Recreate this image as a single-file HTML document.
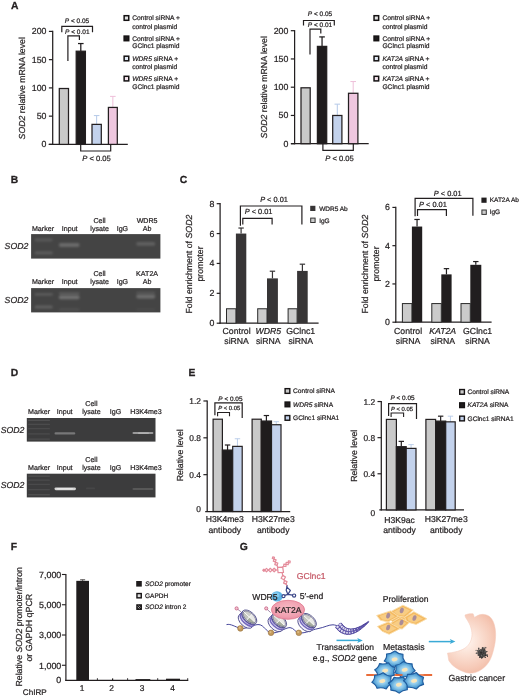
<!DOCTYPE html>
<html lang="en">
<head>
<meta charset="utf-8">
<title>Figure</title>
<style>
html,body{margin:0;padding:0;background:#fff;}
body{width:520px;height:698px;overflow:hidden;}
svg{display:block;filter:blur(0.35px);font-family:'Liberation Sans', Arial, Helvetica, sans-serif;text-rendering:geometricPrecision;}
</style>
</head>
<body>
<svg width="520" height="698" viewBox="0 0 520 698">
<defs>
<filter id="blur" x="-20%" y="-100%" width="140%" height="300%"><feGaussianBlur stdDeviation="0.7"/></filter>
<filter id="blurB" x="-20%" y="-150%" width="140%" height="400%"><feGaussianBlur stdDeviation="1.1"/></filter>
<radialGradient id="gKat" cx="0.5" cy="0.42" r="0.62"><stop offset="0" stop-color="#f7b9c4"/><stop offset="0.7" stop-color="#f0a0b0"/><stop offset="1" stop-color="#e98aa0"/></radialGradient>
<radialGradient id="gSto" gradientUnits="userSpaceOnUse" cx="466" cy="641" r="36"><stop offset="0" stop-color="#fff6f1"/><stop offset="0.35" stop-color="#fbe2d6"/><stop offset="0.75" stop-color="#f6cab8"/><stop offset="1" stop-color="#f1b9a3"/></radialGradient>
<radialGradient id="gCell" cx="0.5" cy="0.5" r="0.55"><stop offset="0" stop-color="#c4e6f6"/><stop offset="0.4" stop-color="#8cc8ea"/><stop offset="0.85" stop-color="#3b8fcc"/><stop offset="1" stop-color="#2f7fc0"/></radialGradient>
</defs>
<rect x="0" y="0" width="520" height="698" fill="#ffffff"/>
<text x="11.10" y="8.90" font-size="10.30" text-anchor="start" fill="#231f20" stroke="#231f20" stroke-width="0.30" font-weight="bold" >A</text>
<line x1="52.70" y1="30.80" x2="52.70" y2="145.00" stroke="#231f20" stroke-width="1.25" />
<line x1="48.70" y1="144.40" x2="127.80" y2="144.40" stroke="#231f20" stroke-width="1.25" />
<line x1="48.90" y1="144.40" x2="52.70" y2="144.40" stroke="#231f20" stroke-width="1.20" />
<text x="46.50" y="147.39" font-size="8.80" text-anchor="end" fill="#231f20" stroke="#231f20" stroke-width="0.22" >0</text>
<line x1="48.90" y1="116.15" x2="52.70" y2="116.15" stroke="#231f20" stroke-width="1.20" />
<text x="46.50" y="119.14" font-size="8.80" text-anchor="end" fill="#231f20" stroke="#231f20" stroke-width="0.22" >50</text>
<line x1="48.90" y1="87.90" x2="52.70" y2="87.90" stroke="#231f20" stroke-width="1.20" />
<text x="46.50" y="90.89" font-size="8.80" text-anchor="end" fill="#231f20" stroke="#231f20" stroke-width="0.22" >100</text>
<line x1="48.90" y1="59.65" x2="52.70" y2="59.65" stroke="#231f20" stroke-width="1.20" />
<text x="46.50" y="62.64" font-size="8.80" text-anchor="end" fill="#231f20" stroke="#231f20" stroke-width="0.22" >150</text>
<line x1="48.90" y1="31.40" x2="52.70" y2="31.40" stroke="#231f20" stroke-width="1.20" />
<text x="46.50" y="34.39" font-size="8.80" text-anchor="end" fill="#231f20" stroke="#231f20" stroke-width="0.22" >200</text>
<text x="0" y="2.97" font-size="8.73" text-anchor="middle" fill="#231f20" stroke="#231f20" stroke-width="0.22" transform="translate(22.10 88.30) rotate(-90)" ><tspan font-style="italic">SOD2</tspan> relative mRNA level</text>
<rect x="59.30" y="88.50" width="9.20" height="55.90" fill="#c9c9c9" stroke="#231f20" stroke-width="1.25" />
<line x1="80.80" y1="51.21" x2="80.80" y2="43.55" stroke="#1f1c1d" stroke-width="1.25" />
<line x1="78.00" y1="43.55" x2="83.60" y2="43.55" stroke="#1f1c1d" stroke-width="1.25" />
<rect x="76.20" y="51.21" width="9.20" height="93.19" fill="#1f1c1d" stroke="#231f20" stroke-width="1.25" />
<line x1="96.65" y1="124.38" x2="96.65" y2="115.59" stroke="#b5c9e8" stroke-width="1.00" />
<line x1="93.85" y1="115.59" x2="99.45" y2="115.59" stroke="#b5c9e8" stroke-width="1.00" />
<rect x="92.00" y="124.38" width="9.30" height="20.02" fill="#c3d2ec" stroke="#231f20" stroke-width="1.25" />
<line x1="112.85" y1="107.43" x2="112.85" y2="96.38" stroke="#eebfd9" stroke-width="1.00" />
<line x1="110.05" y1="96.38" x2="115.65" y2="96.38" stroke="#eebfd9" stroke-width="1.00" />
<rect x="108.40" y="107.43" width="8.90" height="36.97" fill="#efc7df" stroke="#231f20" stroke-width="1.25" />
<rect x="124.15" y="15.70" width="4.60" height="4.60" fill="#e4e4e4" stroke="#151213" stroke-width="1.50" />
<text x="132.20" y="20.28" font-size="6.70" text-anchor="start" fill="#231f20" stroke="#231f20" stroke-width="0.22" >Control siRNA +</text>
<text x="132.20" y="28.58" font-size="6.70" text-anchor="start" fill="#231f20" stroke="#231f20" stroke-width="0.22" >control plasmid</text>
<rect x="124.15" y="36.10" width="4.60" height="4.60" fill="#1f1c1d" stroke="#151213" stroke-width="1.50" />
<text x="132.20" y="40.68" font-size="6.70" text-anchor="start" fill="#231f20" stroke="#231f20" stroke-width="0.22" >Control siRNA +</text>
<text x="132.20" y="48.48" font-size="6.70" text-anchor="start" fill="#231f20" stroke="#231f20" stroke-width="0.22" >GClnc1 plasmid</text>
<rect x="124.15" y="56.20" width="4.60" height="4.60" fill="#e3ebf7" stroke="#151213" stroke-width="1.50" />
<text x="132.20" y="60.78" font-size="6.70" text-anchor="start" fill="#231f20" stroke="#231f20" stroke-width="0.22" ><tspan font-style="italic">WDR5</tspan> siRNA +</text>
<text x="132.20" y="68.58" font-size="6.70" text-anchor="start" fill="#231f20" stroke="#231f20" stroke-width="0.22" >control plasmid</text>
<rect x="124.15" y="76.30" width="4.60" height="4.60" fill="#f8e6f0" stroke="#151213" stroke-width="1.50" />
<text x="132.20" y="80.88" font-size="6.70" text-anchor="start" fill="#231f20" stroke="#231f20" stroke-width="0.22" ><tspan font-style="italic">WDR5</tspan> siRNA +</text>
<text x="132.20" y="88.68" font-size="6.70" text-anchor="start" fill="#231f20" stroke="#231f20" stroke-width="0.22" >GClnc1 plasmid</text>
<path d="M61.80 32.20 V26.40 H92.50 V32.20" fill="none" stroke="#231f20" stroke-width="1.20" />
<text x="77.00" y="23.01" font-size="6.50" text-anchor="middle" fill="#231f20" stroke="#231f20" stroke-width="0.22" ><tspan font-style="italic">P</tspan> &lt; 0.05</text>
<path d="M67.90 61.10 V35.80 H79.40 V40.00" fill="none" stroke="#231f20" stroke-width="1.20" />
<text x="77.30" y="33.71" font-size="6.50" text-anchor="middle" fill="#231f20" stroke="#231f20" stroke-width="0.22" ><tspan font-style="italic">P</tspan> &lt; 0.01</text>
<path d="M80.70 144.40 V151.00 H110.70 V144.40" fill="none" stroke="#231f20" stroke-width="1.20" />
<text x="96.50" y="160.78" font-size="7.60" text-anchor="middle" fill="#231f20" stroke="#231f20" stroke-width="0.22" ><tspan font-style="italic">P</tspan> &lt; 0.05</text>
<line x1="294.60" y1="30.10" x2="294.60" y2="144.30" stroke="#231f20" stroke-width="1.25" />
<line x1="291.00" y1="143.70" x2="368.70" y2="143.70" stroke="#231f20" stroke-width="1.25" />
<line x1="290.80" y1="143.70" x2="294.60" y2="143.70" stroke="#231f20" stroke-width="1.20" />
<text x="288.40" y="146.69" font-size="8.80" text-anchor="end" fill="#231f20" stroke="#231f20" stroke-width="0.22" >0</text>
<line x1="290.80" y1="115.45" x2="294.60" y2="115.45" stroke="#231f20" stroke-width="1.20" />
<text x="288.40" y="118.44" font-size="8.80" text-anchor="end" fill="#231f20" stroke="#231f20" stroke-width="0.22" >50</text>
<line x1="290.80" y1="87.20" x2="294.60" y2="87.20" stroke="#231f20" stroke-width="1.20" />
<text x="288.40" y="90.19" font-size="8.80" text-anchor="end" fill="#231f20" stroke="#231f20" stroke-width="0.22" >100</text>
<line x1="290.80" y1="58.95" x2="294.60" y2="58.95" stroke="#231f20" stroke-width="1.20" />
<text x="288.40" y="61.94" font-size="8.80" text-anchor="end" fill="#231f20" stroke="#231f20" stroke-width="0.22" >150</text>
<line x1="290.80" y1="30.70" x2="294.60" y2="30.70" stroke="#231f20" stroke-width="1.20" />
<text x="288.40" y="33.69" font-size="8.80" text-anchor="end" fill="#231f20" stroke="#231f20" stroke-width="0.22" >200</text>
<text x="0" y="2.97" font-size="8.73" text-anchor="middle" fill="#231f20" stroke="#231f20" stroke-width="0.22" transform="translate(264.00 87.30) rotate(-90)" ><tspan font-style="italic">SOD2</tspan> relative mRNA level</text>
<rect x="301.00" y="87.80" width="9.20" height="55.90" fill="#c9c9c9" stroke="#231f20" stroke-width="1.25" />
<line x1="322.05" y1="46.39" x2="322.05" y2="36.91" stroke="#1f1c1d" stroke-width="1.25" />
<line x1="319.25" y1="36.91" x2="324.85" y2="36.91" stroke="#1f1c1d" stroke-width="1.25" />
<rect x="317.40" y="46.39" width="9.30" height="97.31" fill="#1f1c1d" stroke="#231f20" stroke-width="1.25" />
<line x1="337.30" y1="115.48" x2="337.30" y2="104.15" stroke="#b5c9e8" stroke-width="1.00" />
<line x1="334.50" y1="104.15" x2="340.10" y2="104.15" stroke="#b5c9e8" stroke-width="1.00" />
<rect x="332.70" y="115.48" width="9.20" height="28.22" fill="#c3d2ec" stroke="#231f20" stroke-width="1.25" />
<line x1="353.20" y1="93.28" x2="353.20" y2="81.55" stroke="#eebfd9" stroke-width="1.00" />
<line x1="350.40" y1="81.55" x2="356.00" y2="81.55" stroke="#eebfd9" stroke-width="1.00" />
<rect x="348.50" y="93.28" width="9.40" height="50.42" fill="#efc7df" stroke="#231f20" stroke-width="1.25" />
<rect x="374.05" y="15.70" width="4.60" height="4.60" fill="#e4e4e4" stroke="#151213" stroke-width="1.50" />
<text x="382.40" y="20.28" font-size="6.70" text-anchor="start" fill="#231f20" stroke="#231f20" stroke-width="0.22" >Control siRNA +</text>
<text x="382.40" y="28.58" font-size="6.70" text-anchor="start" fill="#231f20" stroke="#231f20" stroke-width="0.22" >control plasmid</text>
<rect x="374.05" y="36.10" width="4.60" height="4.60" fill="#1f1c1d" stroke="#151213" stroke-width="1.50" />
<text x="382.40" y="40.68" font-size="6.70" text-anchor="start" fill="#231f20" stroke="#231f20" stroke-width="0.22" >Control siRNA +</text>
<text x="382.40" y="48.48" font-size="6.70" text-anchor="start" fill="#231f20" stroke="#231f20" stroke-width="0.22" >GClnc1 plasmid</text>
<rect x="374.05" y="56.20" width="4.60" height="4.60" fill="#e3ebf7" stroke="#151213" stroke-width="1.50" />
<text x="382.40" y="60.78" font-size="6.70" text-anchor="start" fill="#231f20" stroke="#231f20" stroke-width="0.22" ><tspan font-style="italic">KAT2A</tspan> siRNA +</text>
<text x="382.40" y="68.58" font-size="6.70" text-anchor="start" fill="#231f20" stroke="#231f20" stroke-width="0.22" >control plasmid</text>
<rect x="374.05" y="76.30" width="4.60" height="4.60" fill="#f8e6f0" stroke="#151213" stroke-width="1.50" />
<text x="382.40" y="80.88" font-size="6.70" text-anchor="start" fill="#231f20" stroke="#231f20" stroke-width="0.22" ><tspan font-style="italic">KAT2A</tspan> siRNA +</text>
<text x="382.40" y="88.68" font-size="6.70" text-anchor="start" fill="#231f20" stroke="#231f20" stroke-width="0.22" >GClnc1 plasmid</text>
<path d="M303.50 25.40 V20.50 H334.30 V25.40" fill="none" stroke="#231f20" stroke-width="1.20" />
<text x="320.00" y="15.61" font-size="6.50" text-anchor="middle" fill="#231f20" stroke="#231f20" stroke-width="0.22" ><tspan font-style="italic">P</tspan> &lt; 0.05</text>
<path d="M310.00 54.60 V29.20 H320.80 V33.40" fill="none" stroke="#231f20" stroke-width="1.20" />
<text x="320.00" y="27.11" font-size="6.50" text-anchor="middle" fill="#231f20" stroke="#231f20" stroke-width="0.22" ><tspan font-style="italic">P</tspan> &lt; 0.01</text>
<path d="M322.90 143.70 V150.40 H353.30 V143.70" fill="none" stroke="#231f20" stroke-width="1.20" />
<text x="339.50" y="160.58" font-size="7.60" text-anchor="middle" fill="#231f20" stroke="#231f20" stroke-width="0.22" ><tspan font-style="italic">P</tspan> &lt; 0.05</text>
<text x="10.80" y="183.20" font-size="10.30" text-anchor="start" fill="#231f20" stroke="#231f20" stroke-width="0.30" font-weight="bold" >B</text>
<text x="43.00" y="230.81" font-size="7.10" text-anchor="middle" fill="#231f20" stroke="#231f20" stroke-width="0.22" >Marker</text>
<text x="69.70" y="230.81" font-size="7.10" text-anchor="middle" fill="#231f20" stroke="#231f20" stroke-width="0.22" >Input</text>
<text x="99.60" y="222.61" font-size="7.10" text-anchor="middle" fill="#231f20" stroke="#231f20" stroke-width="0.22" >Cell</text>
<text x="99.60" y="230.81" font-size="7.10" text-anchor="middle" fill="#231f20" stroke="#231f20" stroke-width="0.22" >lysate</text>
<text x="122.40" y="230.81" font-size="7.10" text-anchor="middle" fill="#231f20" stroke="#231f20" stroke-width="0.22" >IgG</text>
<text x="147.10" y="222.61" font-size="7.10" text-anchor="middle" fill="#231f20" stroke="#231f20" stroke-width="0.22" >WDR5</text>
<text x="147.10" y="230.81" font-size="7.10" text-anchor="middle" fill="#231f20" stroke="#231f20" stroke-width="0.22" >Ab</text>
<rect x="31.10" y="234.10" width="129.30" height="24.50" fill="#444444" stroke="none" />
<rect x="34.60" y="238.20" width="18.20" height="3.20" rx="1.60" fill="#ffffff" fill-opacity="0.10" filter="url(#blurB)"/>
<rect x="34.60" y="251.30" width="18.20" height="3.20" rx="1.60" fill="#ffffff" fill-opacity="0.12" filter="url(#blurB)"/>
<rect x="58.80" y="243.10" width="20.80" height="4.00" rx="2.00" fill="#ffffff" fill-opacity="0.20" filter="url(#blurB)"/>
<rect x="136.20" y="241.90" width="19.10" height="3.80" rx="1.90" fill="#ffffff" fill-opacity="0.15" filter="url(#blurB)"/>
<text x="4.60" y="249.26" font-size="8.70" text-anchor="start" fill="#231f20" stroke="#231f20" stroke-width="0.22" font-style="italic" >SOD2</text>
<text x="43.00" y="284.21" font-size="7.10" text-anchor="middle" fill="#231f20" stroke="#231f20" stroke-width="0.22" >Marker</text>
<text x="69.70" y="284.21" font-size="7.10" text-anchor="middle" fill="#231f20" stroke="#231f20" stroke-width="0.22" >Input</text>
<text x="99.60" y="275.61" font-size="7.10" text-anchor="middle" fill="#231f20" stroke="#231f20" stroke-width="0.22" >Cell</text>
<text x="99.60" y="284.21" font-size="7.10" text-anchor="middle" fill="#231f20" stroke="#231f20" stroke-width="0.22" >lysate</text>
<text x="122.40" y="284.21" font-size="7.10" text-anchor="middle" fill="#231f20" stroke="#231f20" stroke-width="0.22" >IgG</text>
<text x="147.10" y="275.61" font-size="7.10" text-anchor="middle" fill="#231f20" stroke="#231f20" stroke-width="0.22" >KAT2A</text>
<text x="147.10" y="284.21" font-size="7.10" text-anchor="middle" fill="#231f20" stroke="#231f20" stroke-width="0.22" >Ab</text>
<rect x="31.10" y="288.10" width="129.30" height="24.30" fill="#444444" stroke="none" />
<rect x="34.60" y="293.10" width="18.20" height="2.60" rx="1.30" fill="#ffffff" fill-opacity="0.12" filter="url(#blurB)"/>
<rect x="34.60" y="305.40" width="18.20" height="3.00" rx="1.50" fill="#ffffff" fill-opacity="0.15" filter="url(#blurB)"/>
<rect x="58.80" y="295.60" width="20.80" height="3.60" rx="1.80" fill="#ffffff" fill-opacity="0.24" filter="url(#blurB)"/>
<rect x="58.80" y="292.30" width="20.80" height="2.60" rx="1.30" fill="#ffffff" fill-opacity="0.12" filter="url(#blurB)"/>
<rect x="58.80" y="308.50" width="20.80" height="2.20" rx="1.10" fill="#ffffff" fill-opacity="0.07" filter="url(#blurB)"/>
<rect x="136.20" y="294.80" width="19.10" height="3.60" rx="1.80" fill="#ffffff" fill-opacity="0.22" filter="url(#blurB)"/>
<rect x="136.20" y="291.80" width="19.10" height="2.40" rx="1.20" fill="#ffffff" fill-opacity="0.10" filter="url(#blurB)"/>
<rect x="136.20" y="308.40" width="19.10" height="2.00" rx="1.00" fill="#ffffff" fill-opacity="0.04" filter="url(#blurB)"/>
<text x="4.60" y="302.96" font-size="8.70" text-anchor="start" fill="#231f20" stroke="#231f20" stroke-width="0.22" font-style="italic" >SOD2</text>
<text x="179.70" y="183.20" font-size="10.30" text-anchor="start" fill="#231f20" stroke="#231f20" stroke-width="0.30" font-weight="bold" >C</text>
<line x1="220.10" y1="203.08" x2="220.10" y2="323.80" stroke="#231f20" stroke-width="1.25" />
<line x1="219.50" y1="323.20" x2="318.60" y2="323.20" stroke="#231f20" stroke-width="1.25" />
<line x1="216.70" y1="323.20" x2="220.10" y2="323.20" stroke="#231f20" stroke-width="1.20" />
<text x="214.30" y="326.19" font-size="8.80" text-anchor="end" fill="#231f20" stroke="#231f20" stroke-width="0.22" >0</text>
<line x1="216.70" y1="293.32" x2="220.10" y2="293.32" stroke="#231f20" stroke-width="1.20" />
<text x="214.30" y="296.31" font-size="8.80" text-anchor="end" fill="#231f20" stroke="#231f20" stroke-width="0.22" >2</text>
<line x1="216.70" y1="263.44" x2="220.10" y2="263.44" stroke="#231f20" stroke-width="1.20" />
<text x="214.30" y="266.43" font-size="8.80" text-anchor="end" fill="#231f20" stroke="#231f20" stroke-width="0.22" >4</text>
<line x1="216.70" y1="233.56" x2="220.10" y2="233.56" stroke="#231f20" stroke-width="1.20" />
<text x="214.30" y="236.55" font-size="8.80" text-anchor="end" fill="#231f20" stroke="#231f20" stroke-width="0.22" >6</text>
<line x1="216.70" y1="203.68" x2="220.10" y2="203.68" stroke="#231f20" stroke-width="1.20" />
<text x="214.30" y="206.67" font-size="8.80" text-anchor="end" fill="#231f20" stroke="#231f20" stroke-width="0.22" >8</text>
<text x="0" y="2.99" font-size="8.78" text-anchor="middle" fill="#231f20" stroke="#231f20" stroke-width="0.22" transform="translate(189.20 264.10) rotate(-90)" >Fold enrichment of <tspan font-style="italic">SOD2</tspan></text>
<text x="0" y="2.99" font-size="8.78" text-anchor="middle" fill="#231f20" stroke="#231f20" stroke-width="0.22" transform="translate(200.40 264.00) rotate(-90)" >promoter</text>
<line x1="241.10" y1="233.56" x2="241.10" y2="228.03" stroke="#373536" stroke-width="1.20" />
<line x1="238.40" y1="228.03" x2="243.80" y2="228.03" stroke="#373536" stroke-width="1.20" />
<rect x="235.90" y="233.56" width="10.40" height="89.64" fill="#373536" stroke="none" />
<rect x="226.50" y="308.76" width="9.40" height="14.44" fill="#cbcbcb" stroke="#2a2a2a" stroke-width="1.00" />
<line x1="272.45" y1="278.38" x2="272.45" y2="271.21" stroke="#373536" stroke-width="1.20" />
<line x1="269.75" y1="271.21" x2="275.15" y2="271.21" stroke="#373536" stroke-width="1.20" />
<rect x="267.00" y="278.38" width="10.90" height="44.82" fill="#373536" stroke="none" />
<rect x="257.70" y="308.76" width="9.30" height="14.44" fill="#cbcbcb" stroke="#2a2a2a" stroke-width="1.00" />
<line x1="302.40" y1="270.91" x2="302.40" y2="264.19" stroke="#373536" stroke-width="1.20" />
<line x1="299.70" y1="264.19" x2="305.10" y2="264.19" stroke="#373536" stroke-width="1.20" />
<rect x="297.10" y="270.91" width="10.60" height="52.29" fill="#373536" stroke="none" />
<rect x="288.10" y="308.76" width="9.00" height="14.44" fill="#cbcbcb" stroke="#2a2a2a" stroke-width="1.00" />
<rect x="310.20" y="205.80" width="5.20" height="5.20" fill="#373536" stroke="none" />
<text x="319.20" y="210.61" font-size="6.50" text-anchor="start" fill="#231f20" stroke="#231f20" stroke-width="0.22" >WDR5 Ab</text>
<rect x="310.70" y="218.10" width="4.40" height="4.40" fill="#cbcbcb" stroke="#333" stroke-width="1.00" />
<text x="319.20" y="222.51" font-size="6.50" text-anchor="start" fill="#231f20" stroke="#231f20" stroke-width="0.22" >IgG</text>
<text x="236.60" y="334.36" font-size="8.70" text-anchor="middle" fill="#231f20" stroke="#231f20" stroke-width="0.22" >Control</text>
<text x="236.60" y="344.46" font-size="8.70" text-anchor="middle" fill="#231f20" stroke="#231f20" stroke-width="0.22" >siRNA</text>
<text x="268.30" y="334.36" font-size="8.70" text-anchor="middle" fill="#231f20" stroke="#231f20" stroke-width="0.22" ><tspan font-style="italic">WDR5</tspan></text>
<text x="268.30" y="344.46" font-size="8.70" text-anchor="middle" fill="#231f20" stroke="#231f20" stroke-width="0.22" >siRNA</text>
<text x="300.70" y="334.36" font-size="8.70" text-anchor="middle" fill="#231f20" stroke="#231f20" stroke-width="0.22" >GClnc1</text>
<text x="300.70" y="344.46" font-size="8.70" text-anchor="middle" fill="#231f20" stroke="#231f20" stroke-width="0.22" >siRNA</text>
<path d="M240.40 225.70 V206.00 H301.90 V224.40" fill="none" stroke="#231f20" stroke-width="1.20" />
<text x="274.00" y="201.92" font-size="7.40" text-anchor="middle" fill="#231f20" stroke="#231f20" stroke-width="0.22" ><tspan font-style="italic">P</tspan> &lt; 0.01</text>
<path d="M242.80 224.40 V218.40 H272.10 V224.40" fill="none" stroke="#231f20" stroke-width="1.20" />
<text x="258.60" y="214.22" font-size="7.40" text-anchor="middle" fill="#231f20" stroke="#231f20" stroke-width="0.22" ><tspan font-style="italic">P</tspan> &lt; 0.01</text>
<line x1="395.80" y1="206.82" x2="395.80" y2="322.80" stroke="#231f20" stroke-width="1.25" />
<line x1="395.20" y1="322.20" x2="491.60" y2="322.20" stroke="#231f20" stroke-width="1.25" />
<line x1="392.40" y1="322.20" x2="395.80" y2="322.20" stroke="#231f20" stroke-width="1.20" />
<text x="390.00" y="325.19" font-size="8.80" text-anchor="end" fill="#231f20" stroke="#231f20" stroke-width="0.22" >0</text>
<line x1="392.40" y1="283.94" x2="395.80" y2="283.94" stroke="#231f20" stroke-width="1.20" />
<text x="390.00" y="286.93" font-size="8.80" text-anchor="end" fill="#231f20" stroke="#231f20" stroke-width="0.22" >2</text>
<line x1="392.40" y1="245.68" x2="395.80" y2="245.68" stroke="#231f20" stroke-width="1.20" />
<text x="390.00" y="248.67" font-size="8.80" text-anchor="end" fill="#231f20" stroke="#231f20" stroke-width="0.22" >4</text>
<line x1="392.40" y1="207.42" x2="395.80" y2="207.42" stroke="#231f20" stroke-width="1.20" />
<text x="390.00" y="210.41" font-size="8.80" text-anchor="end" fill="#231f20" stroke="#231f20" stroke-width="0.22" >6</text>
<text x="0" y="2.99" font-size="8.78" text-anchor="middle" fill="#231f20" stroke="#231f20" stroke-width="0.22" transform="translate(365.00 264.10) rotate(-90)" >Fold enrichment of <tspan font-style="italic">SOD2</tspan></text>
<text x="0" y="2.99" font-size="8.78" text-anchor="middle" fill="#231f20" stroke="#231f20" stroke-width="0.22" transform="translate(376.10 264.00) rotate(-90)" >promoter</text>
<line x1="417.05" y1="226.55" x2="417.05" y2="219.47" stroke="#211e1f" stroke-width="1.20" />
<line x1="414.35" y1="219.47" x2="419.75" y2="219.47" stroke="#211e1f" stroke-width="1.20" />
<rect x="411.90" y="226.55" width="10.30" height="95.65" fill="#211e1f" stroke="none" />
<rect x="402.40" y="303.57" width="9.50" height="18.63" fill="#cbcbcb" stroke="#2a2a2a" stroke-width="1.00" />
<line x1="446.45" y1="274.38" x2="446.45" y2="268.64" stroke="#211e1f" stroke-width="1.20" />
<line x1="443.75" y1="268.64" x2="449.15" y2="268.64" stroke="#211e1f" stroke-width="1.20" />
<rect x="441.30" y="274.38" width="10.30" height="47.82" fill="#211e1f" stroke="none" />
<rect x="431.80" y="303.57" width="9.50" height="18.63" fill="#cbcbcb" stroke="#2a2a2a" stroke-width="1.00" />
<line x1="475.80" y1="264.81" x2="475.80" y2="261.56" stroke="#211e1f" stroke-width="1.20" />
<line x1="473.10" y1="261.56" x2="478.50" y2="261.56" stroke="#211e1f" stroke-width="1.20" />
<rect x="470.30" y="264.81" width="11.00" height="57.39" fill="#211e1f" stroke="none" />
<rect x="461.00" y="303.57" width="9.30" height="18.63" fill="#cbcbcb" stroke="#2a2a2a" stroke-width="1.00" />
<rect x="481.40" y="197.60" width="5.20" height="5.20" fill="#211e1f" stroke="none" />
<text x="489.70" y="202.41" font-size="6.50" text-anchor="start" fill="#231f20" stroke="#231f20" stroke-width="0.22" >KAT2A Ab</text>
<rect x="481.90" y="210.00" width="4.40" height="4.40" fill="#cbcbcb" stroke="#333" stroke-width="1.00" />
<text x="489.70" y="214.41" font-size="6.50" text-anchor="start" fill="#231f20" stroke="#231f20" stroke-width="0.22" >IgG</text>
<text x="408.10" y="334.36" font-size="8.70" text-anchor="middle" fill="#231f20" stroke="#231f20" stroke-width="0.22" >Control</text>
<text x="408.10" y="344.46" font-size="8.70" text-anchor="middle" fill="#231f20" stroke="#231f20" stroke-width="0.22" >siRNA</text>
<text x="442.70" y="334.36" font-size="8.70" text-anchor="middle" fill="#231f20" stroke="#231f20" stroke-width="0.22" ><tspan font-style="italic">KAT2A</tspan></text>
<text x="442.70" y="344.46" font-size="8.70" text-anchor="middle" fill="#231f20" stroke="#231f20" stroke-width="0.22" >siRNA</text>
<text x="477.60" y="334.36" font-size="8.70" text-anchor="middle" fill="#231f20" stroke="#231f20" stroke-width="0.22" >GClnc1</text>
<text x="477.60" y="344.46" font-size="8.70" text-anchor="middle" fill="#231f20" stroke="#231f20" stroke-width="0.22" >siRNA</text>
<path d="M415.10 216.30 V198.40 H472.90 V215.80" fill="none" stroke="#231f20" stroke-width="1.20" />
<text x="447.70" y="195.92" font-size="7.40" text-anchor="middle" fill="#231f20" stroke="#231f20" stroke-width="0.22" ><tspan font-style="italic">P</tspan> &lt; 0.01</text>
<path d="M417.50 216.10 V209.60 H446.40 V216.10" fill="none" stroke="#231f20" stroke-width="1.20" />
<text x="432.90" y="207.32" font-size="7.40" text-anchor="middle" fill="#231f20" stroke="#231f20" stroke-width="0.22" ><tspan font-style="italic">P</tspan> &lt; 0.01</text>
<text x="10.80" y="376.40" font-size="10.30" text-anchor="start" fill="#231f20" stroke="#231f20" stroke-width="0.30" font-weight="bold" >D</text>
<text x="39.10" y="414.41" font-size="7.10" text-anchor="middle" fill="#231f20" stroke="#231f20" stroke-width="0.22" >Marker</text>
<text x="64.70" y="414.41" font-size="7.10" text-anchor="middle" fill="#231f20" stroke="#231f20" stroke-width="0.22" >Input</text>
<text x="91.40" y="405.81" font-size="7.10" text-anchor="middle" fill="#231f20" stroke="#231f20" stroke-width="0.22" >Cell</text>
<text x="91.40" y="414.41" font-size="7.10" text-anchor="middle" fill="#231f20" stroke="#231f20" stroke-width="0.22" >lysate</text>
<text x="115.50" y="414.41" font-size="7.10" text-anchor="middle" fill="#231f20" stroke="#231f20" stroke-width="0.22" >IgG</text>
<text x="146.00" y="414.41" font-size="7.10" text-anchor="middle" fill="#231f20" stroke="#231f20" stroke-width="0.22" >H3K4me3</text>
<rect x="26.80" y="418.00" width="128.70" height="23.60" fill="#3c3c3d" stroke="none" />
<rect x="28.00" y="419.80" width="22.00" height="1.20" rx="0.60" fill="#ffffff" fill-opacity="0.10" filter="url(#blur)"/>
<rect x="28.00" y="423.80" width="22.00" height="1.20" rx="0.60" fill="#ffffff" fill-opacity="0.08" filter="url(#blur)"/>
<rect x="28.00" y="428.05" width="22.00" height="1.30" rx="0.65" fill="#ffffff" fill-opacity="0.07" filter="url(#blur)"/>
<rect x="28.00" y="433.20" width="22.00" height="1.40" rx="0.70" fill="#ffffff" fill-opacity="0.08" filter="url(#blur)"/>
<rect x="28.00" y="438.40" width="22.00" height="1.40" rx="0.70" fill="#ffffff" fill-opacity="0.09" filter="url(#blur)"/>
<rect x="54.50" y="432.25" width="20.80" height="2.30" rx="1.15" fill="#ffffff" fill-opacity="0.30" filter="url(#blur)"/>
<rect x="132.50" y="432.10" width="20.90" height="2.00" rx="1.00" fill="#ffffff" fill-opacity="0.48" filter="url(#blur)"/>
<rect x="138.00" y="432.40" width="11.00" height="1.40" rx="0.70" fill="#ffffff" fill-opacity="0.30" filter="url(#blur)"/>
<text x="0.80" y="433.06" font-size="8.70" text-anchor="start" fill="#231f20" stroke="#231f20" stroke-width="0.22" font-style="italic" >SOD2</text>
<text x="39.10" y="470.11" font-size="7.10" text-anchor="middle" fill="#231f20" stroke="#231f20" stroke-width="0.22" >Marker</text>
<text x="64.70" y="470.11" font-size="7.10" text-anchor="middle" fill="#231f20" stroke="#231f20" stroke-width="0.22" >Input</text>
<text x="91.40" y="461.81" font-size="7.10" text-anchor="middle" fill="#231f20" stroke="#231f20" stroke-width="0.22" >Cell</text>
<text x="91.40" y="470.11" font-size="7.10" text-anchor="middle" fill="#231f20" stroke="#231f20" stroke-width="0.22" >lysate</text>
<text x="115.50" y="470.11" font-size="7.10" text-anchor="middle" fill="#231f20" stroke="#231f20" stroke-width="0.22" >IgG</text>
<text x="146.00" y="470.11" font-size="7.10" text-anchor="middle" fill="#231f20" stroke="#231f20" stroke-width="0.22" >H3K4me3</text>
<rect x="26.80" y="473.70" width="128.70" height="23.70" fill="#3c3c3d" stroke="none" />
<rect x="28.00" y="475.50" width="22.00" height="1.20" rx="0.60" fill="#ffffff" fill-opacity="0.10" filter="url(#blur)"/>
<rect x="28.00" y="479.50" width="22.00" height="1.20" rx="0.60" fill="#ffffff" fill-opacity="0.08" filter="url(#blur)"/>
<rect x="28.00" y="483.75" width="22.00" height="1.30" rx="0.65" fill="#ffffff" fill-opacity="0.07" filter="url(#blur)"/>
<rect x="28.00" y="488.90" width="22.00" height="1.40" rx="0.70" fill="#ffffff" fill-opacity="0.08" filter="url(#blur)"/>
<rect x="28.00" y="494.10" width="22.00" height="1.40" rx="0.70" fill="#ffffff" fill-opacity="0.09" filter="url(#blur)"/>
<rect x="54.50" y="487.40" width="21.50" height="2.80" rx="1.40" fill="#ffffff" fill-opacity="0.78" filter="url(#blur)"/>
<rect x="57.00" y="488.00" width="16.00" height="1.60" rx="0.80" fill="#ffffff" fill-opacity="0.40" filter="url(#blur)"/>
<rect x="86.00" y="487.50" width="9.00" height="1.80" rx="0.90" fill="#ffffff" fill-opacity="0.05" filter="url(#blur)"/>
<rect x="132.50" y="488.00" width="20.90" height="2.00" rx="1.00" fill="#ffffff" fill-opacity="0.14" filter="url(#blur)"/>
<text x="0.80" y="488.26" font-size="8.70" text-anchor="start" fill="#231f20" stroke="#231f20" stroke-width="0.22" font-style="italic" >SOD2</text>
<text x="188.40" y="376.40" font-size="10.30" text-anchor="start" fill="#231f20" stroke="#231f20" stroke-width="0.30" font-weight="bold" >E</text>
<line x1="207.20" y1="400.38" x2="207.20" y2="512.10" stroke="#231f20" stroke-width="1.25" />
<line x1="205.20" y1="511.50" x2="290.20" y2="511.50" stroke="#231f20" stroke-width="1.25" />
<text x="201.00" y="511.56" font-size="8.40" text-anchor="end" fill="#231f20" stroke="#231f20" stroke-width="0.22" >0</text>
<line x1="203.40" y1="474.66" x2="207.20" y2="474.66" stroke="#231f20" stroke-width="1.20" />
<text x="201.00" y="478.02" font-size="8.40" text-anchor="end" fill="#231f20" stroke="#231f20" stroke-width="0.22" >0.4</text>
<line x1="203.40" y1="437.82" x2="207.20" y2="437.82" stroke="#231f20" stroke-width="1.20" />
<text x="201.00" y="441.18" font-size="8.40" text-anchor="end" fill="#231f20" stroke="#231f20" stroke-width="0.22" >0.8</text>
<line x1="203.40" y1="400.98" x2="207.20" y2="400.98" stroke="#231f20" stroke-width="1.20" />
<text x="201.00" y="404.34" font-size="8.40" text-anchor="end" fill="#231f20" stroke="#231f20" stroke-width="0.22" >1.2</text>
<text x="0" y="2.99" font-size="8.78" text-anchor="middle" fill="#231f20" stroke="#231f20" stroke-width="0.22" transform="translate(179.80 455.30) rotate(-90)" >Relative level</text>
<rect x="213.10" y="419.20" width="9.30" height="92.30" fill="#c9c9c9" stroke="#231f20" stroke-width="1.20" />
<line x1="227.55" y1="450.05" x2="227.55" y2="445.00" stroke="#231f20" stroke-width="1.20" />
<line x1="224.85" y1="445.00" x2="230.25" y2="445.00" stroke="#231f20" stroke-width="1.20" />
<rect x="222.40" y="450.05" width="10.30" height="61.45" fill="#1f1c1d" stroke="#231f20" stroke-width="1.20" />
<line x1="237.45" y1="446.37" x2="237.45" y2="438.74" stroke="#b5c9e8" stroke-width="0.90" />
<line x1="234.75" y1="438.74" x2="240.15" y2="438.74" stroke="#b5c9e8" stroke-width="0.90" />
<rect x="232.70" y="446.37" width="9.50" height="65.13" fill="#c3d2ec" stroke="#231f20" stroke-width="1.20" />
<rect x="252.10" y="419.20" width="9.20" height="92.30" fill="#c9c9c9" stroke="#231f20" stroke-width="1.20" />
<line x1="266.40" y1="421.04" x2="266.40" y2="415.53" stroke="#231f20" stroke-width="1.20" />
<line x1="263.70" y1="415.53" x2="269.10" y2="415.53" stroke="#231f20" stroke-width="1.20" />
<rect x="261.30" y="421.04" width="10.20" height="90.46" fill="#1f1c1d" stroke="#231f20" stroke-width="1.20" />
<line x1="276.25" y1="424.73" x2="276.25" y2="421.70" stroke="#b5c9e8" stroke-width="0.90" />
<line x1="273.55" y1="421.70" x2="278.95" y2="421.70" stroke="#b5c9e8" stroke-width="0.90" />
<rect x="271.50" y="424.73" width="9.50" height="86.77" fill="#c3d2ec" stroke="#231f20" stroke-width="1.20" />
<rect x="285.10" y="388.65" width="4.70" height="4.70" fill="#c9c9c9" stroke="#151213" stroke-width="1.40" />
<text x="293.10" y="393.24" font-size="6.60" text-anchor="start" fill="#231f20" stroke="#231f20" stroke-width="0.22" >Control siRNA</text>
<rect x="285.10" y="402.05" width="4.70" height="4.70" fill="#1f1c1d" stroke="#151213" stroke-width="1.40" />
<text x="293.10" y="406.64" font-size="6.60" text-anchor="start" fill="#231f20" stroke="#231f20" stroke-width="0.22" ><tspan font-style="italic">WDR5</tspan> siRNA</text>
<rect x="285.10" y="415.55" width="4.70" height="4.70" fill="#c3d2ec" stroke="#151213" stroke-width="1.40" />
<text x="293.10" y="420.14" font-size="6.60" text-anchor="start" fill="#231f20" stroke="#231f20" stroke-width="0.22" >GClnc1 siRNA1</text>
<text x="224.80" y="522.32" font-size="8.60" text-anchor="middle" fill="#231f20" stroke="#231f20" stroke-width="0.22" >H3K4me3</text>
<text x="224.80" y="533.12" font-size="8.60" text-anchor="middle" fill="#231f20" stroke="#231f20" stroke-width="0.22" >antibody</text>
<text x="273.20" y="522.32" font-size="8.60" text-anchor="middle" fill="#231f20" stroke="#231f20" stroke-width="0.22" >H3K27me3</text>
<text x="273.20" y="533.12" font-size="8.60" text-anchor="middle" fill="#231f20" stroke="#231f20" stroke-width="0.22" >antibody</text>
<path d="M214.90 415.20 V402.80 H242.20 V418.00" fill="none" stroke="#231f20" stroke-width="1.20" />
<text x="230.40" y="400.79" font-size="6.45" text-anchor="middle" fill="#231f20" stroke="#231f20" stroke-width="0.22" ><tspan font-style="italic">P</tspan> &lt; 0.05</text>
<path d="M217.60 416.20 V412.50 H229.50 V416.20" fill="none" stroke="#231f20" stroke-width="1.10" />
<text x="229.20" y="410.31" font-size="5.90" text-anchor="middle" fill="#231f20" stroke="#231f20" stroke-width="0.22" ><tspan font-style="italic">P</tspan> &lt; 0.05</text>
<line x1="381.30" y1="400.94" x2="381.30" y2="510.50" stroke="#231f20" stroke-width="1.25" />
<line x1="379.30" y1="509.90" x2="464.00" y2="509.90" stroke="#231f20" stroke-width="1.25" />
<text x="375.10" y="515.56" font-size="8.40" text-anchor="end" fill="#231f20" stroke="#231f20" stroke-width="0.22" >0</text>
<line x1="377.50" y1="473.78" x2="381.30" y2="473.78" stroke="#231f20" stroke-width="1.20" />
<text x="375.10" y="477.14" font-size="8.40" text-anchor="end" fill="#231f20" stroke="#231f20" stroke-width="0.22" >0.4</text>
<line x1="377.50" y1="437.66" x2="381.30" y2="437.66" stroke="#231f20" stroke-width="1.20" />
<text x="375.10" y="441.02" font-size="8.40" text-anchor="end" fill="#231f20" stroke="#231f20" stroke-width="0.22" >0.8</text>
<line x1="377.50" y1="401.54" x2="381.30" y2="401.54" stroke="#231f20" stroke-width="1.20" />
<text x="375.10" y="404.90" font-size="8.40" text-anchor="end" fill="#231f20" stroke="#231f20" stroke-width="0.22" >1.2</text>
<text x="0" y="2.99" font-size="8.78" text-anchor="middle" fill="#231f20" stroke="#231f20" stroke-width="0.22" transform="translate(353.80 455.80) rotate(-90)" >Relative level</text>
<rect x="386.40" y="419.40" width="10.00" height="90.50" fill="#c9c9c9" stroke="#231f20" stroke-width="1.20" />
<line x1="401.30" y1="446.67" x2="401.30" y2="441.36" stroke="#231f20" stroke-width="1.20" />
<line x1="398.60" y1="441.36" x2="404.00" y2="441.36" stroke="#231f20" stroke-width="1.20" />
<rect x="396.40" y="446.67" width="9.80" height="63.23" fill="#1f1c1d" stroke="#231f20" stroke-width="1.20" />
<line x1="411.10" y1="448.39" x2="411.10" y2="444.61" stroke="#b5c9e8" stroke-width="0.90" />
<line x1="408.40" y1="444.61" x2="413.80" y2="444.61" stroke="#b5c9e8" stroke-width="0.90" />
<rect x="406.20" y="448.39" width="9.80" height="61.51" fill="#c3d2ec" stroke="#231f20" stroke-width="1.20" />
<rect x="425.90" y="419.40" width="9.70" height="90.50" fill="#c9c9c9" stroke="#231f20" stroke-width="1.20" />
<line x1="440.65" y1="421.12" x2="440.65" y2="416.17" stroke="#231f20" stroke-width="1.20" />
<line x1="437.95" y1="416.17" x2="443.35" y2="416.17" stroke="#231f20" stroke-width="1.20" />
<rect x="435.60" y="421.12" width="10.10" height="88.78" fill="#1f1c1d" stroke="#231f20" stroke-width="1.20" />
<line x1="450.45" y1="421.84" x2="450.45" y2="416.17" stroke="#b5c9e8" stroke-width="0.90" />
<line x1="447.75" y1="416.17" x2="453.15" y2="416.17" stroke="#b5c9e8" stroke-width="0.90" />
<rect x="445.70" y="421.84" width="9.50" height="88.06" fill="#c3d2ec" stroke="#231f20" stroke-width="1.20" />
<rect x="459.70" y="389.55" width="4.70" height="4.70" fill="#c9c9c9" stroke="#151213" stroke-width="1.40" />
<text x="467.50" y="394.14" font-size="6.60" text-anchor="start" fill="#231f20" stroke="#231f20" stroke-width="0.22" >Control siRNA</text>
<rect x="459.70" y="402.85" width="4.70" height="4.70" fill="#1f1c1d" stroke="#151213" stroke-width="1.40" />
<text x="467.50" y="407.44" font-size="6.60" text-anchor="start" fill="#231f20" stroke="#231f20" stroke-width="0.22" ><tspan font-style="italic">KAT2A</tspan> siRNA</text>
<rect x="459.70" y="416.15" width="4.70" height="4.70" fill="#c3d2ec" stroke="#151213" stroke-width="1.40" />
<text x="467.50" y="420.74" font-size="6.60" text-anchor="start" fill="#231f20" stroke="#231f20" stroke-width="0.22" >GClnc1 siRNA1</text>
<text x="399.50" y="522.92" font-size="8.60" text-anchor="middle" fill="#231f20" stroke="#231f20" stroke-width="0.22" >H3K9ac</text>
<text x="399.50" y="533.12" font-size="8.60" text-anchor="middle" fill="#231f20" stroke="#231f20" stroke-width="0.22" >antibody</text>
<text x="446.20" y="522.12" font-size="8.60" text-anchor="middle" fill="#231f20" stroke="#231f20" stroke-width="0.22" >H3K27me3</text>
<text x="446.20" y="533.12" font-size="8.60" text-anchor="middle" fill="#231f20" stroke="#231f20" stroke-width="0.22" >antibody</text>
<path d="M388.60 416.10 V403.70 H416.50 V418.90" fill="none" stroke="#231f20" stroke-width="1.20" />
<text x="402.50" y="399.59" font-size="6.45" text-anchor="middle" fill="#231f20" stroke="#231f20" stroke-width="0.22" ><tspan font-style="italic">P</tspan> &lt; 0.05</text>
<path d="M391.10 417.10 V412.95 H403.60 V417.10" fill="none" stroke="#231f20" stroke-width="1.10" />
<text x="402.00" y="410.61" font-size="5.90" text-anchor="middle" fill="#231f20" stroke="#231f20" stroke-width="0.22" ><tspan font-style="italic">P</tspan> &lt; 0.05</text>
<text x="10.80" y="549.70" font-size="10.30" text-anchor="start" fill="#231f20" stroke="#231f20" stroke-width="0.30" font-weight="bold" >F</text>
<line x1="65.90" y1="573.89" x2="65.90" y2="681.00" stroke="#231f20" stroke-width="1.20" />
<line x1="65.30" y1="680.40" x2="188.20" y2="680.40" stroke="#231f20" stroke-width="1.10" />
<text x="61.30" y="682.83" font-size="8.90" text-anchor="end" fill="#231f20" stroke="#231f20" stroke-width="0.22" >0</text>
<line x1="61.90" y1="665.27" x2="65.90" y2="665.27" stroke="#231f20" stroke-width="1.10" />
<text x="61.30" y="668.50" font-size="8.90" text-anchor="end" fill="#231f20" stroke="#231f20" stroke-width="0.22" >1,000</text>
<line x1="61.90" y1="635.01" x2="65.90" y2="635.01" stroke="#231f20" stroke-width="1.10" />
<text x="61.30" y="638.24" font-size="8.90" text-anchor="end" fill="#231f20" stroke="#231f20" stroke-width="0.22" >3,000</text>
<line x1="61.90" y1="604.75" x2="65.90" y2="604.75" stroke="#231f20" stroke-width="1.10" />
<text x="61.30" y="607.98" font-size="8.90" text-anchor="end" fill="#231f20" stroke="#231f20" stroke-width="0.22" >5,000</text>
<line x1="61.90" y1="574.49" x2="65.90" y2="574.49" stroke="#231f20" stroke-width="1.10" />
<text x="61.30" y="577.72" font-size="8.90" text-anchor="end" fill="#231f20" stroke="#231f20" stroke-width="0.22" >7,000</text>
<line x1="97.40" y1="678.20" x2="97.40" y2="680.90" stroke="#231f20" stroke-width="0.90" />
<line x1="127.60" y1="678.20" x2="127.60" y2="680.90" stroke="#231f20" stroke-width="0.90" />
<line x1="157.70" y1="678.20" x2="157.70" y2="680.90" stroke="#231f20" stroke-width="0.90" />
<line x1="187.70" y1="678.20" x2="187.70" y2="680.90" stroke="#231f20" stroke-width="0.90" />
<line x1="82.65" y1="580.84" x2="82.65" y2="579.79" stroke="#231f20" stroke-width="0.80" />
<line x1="80.15" y1="579.79" x2="85.15" y2="579.79" stroke="#231f20" stroke-width="0.80" />
<rect x="76.30" y="580.84" width="12.70" height="99.56" fill="#1f1c1d" stroke="none" />
<rect x="135.50" y="679.10" width="14.80" height="1.30" fill="#1f1c1d" stroke="none" />
<rect x="166.00" y="678.70" width="14.00" height="1.70" fill="#1f1c1d" stroke="none" />
<rect x="112.00" y="678.40" width="1.20" height="2.00" fill="#1f1c1d" stroke="none" />
<text x="82.10" y="691.26" font-size="8.40" text-anchor="middle" fill="#231f20" stroke="#231f20" stroke-width="0.22" >1</text>
<text x="111.70" y="691.26" font-size="8.40" text-anchor="middle" fill="#231f20" stroke="#231f20" stroke-width="0.22" >2</text>
<text x="142.20" y="691.26" font-size="8.40" text-anchor="middle" fill="#231f20" stroke="#231f20" stroke-width="0.22" >3</text>
<text x="172.50" y="691.26" font-size="8.40" text-anchor="middle" fill="#231f20" stroke="#231f20" stroke-width="0.22" >4</text>
<text x="22.80" y="695.05" font-size="8.10" text-anchor="start" fill="#231f20" stroke="#231f20" stroke-width="0.22" >ChIRP</text>
<text x="0" y="2.97" font-size="8.74" text-anchor="middle" fill="#231f20" stroke="#231f20" stroke-width="0.22" transform="translate(18.70 626.80) rotate(-90)" >Relative <tspan font-style="italic">SOD2</tspan> promoter/intron</text>
<text x="0" y="3.01" font-size="8.85" text-anchor="middle" fill="#231f20" stroke="#231f20" stroke-width="0.22" transform="translate(29.30 627.70) rotate(-90)" >or GAPDH qPCR</text>
<rect x="136.20" y="581.00" width="5.60" height="5.60" fill="#1f1c1d" stroke="none" />
<text x="145.00" y="586.03" font-size="6.55" text-anchor="start" fill="#231f20" stroke="#231f20" stroke-width="0.22" ><tspan font-style="italic">SOD2</tspan> promoter</text>
<rect x="136.95" y="593.55" width="4.30" height="4.30" fill="#dcdcdc" stroke="#151213" stroke-width="1.40" />
<text x="145.00" y="598.03" font-size="6.55" text-anchor="start" fill="#231f20" stroke="#231f20" stroke-width="0.22" >GAPDH</text>
<rect x="136.95" y="604.95" width="4.30" height="4.30" fill="#ffffff" stroke="#151213" stroke-width="1.40" />
<path d="M137.2 605.2 L141 609 M139.4 605 L141.2 606.8 M137 607.4 L138.8 609.2" stroke="#151213" stroke-width="1.1" fill="none"/>
<text x="145.00" y="609.43" font-size="6.55" text-anchor="start" fill="#231f20" stroke="#231f20" stroke-width="0.22" ><tspan font-style="italic">SOD2</tspan> intron 2</text>
<text x="239.70" y="550.00" font-size="10.30" text-anchor="start" fill="#231f20" stroke="#231f20" stroke-width="0.30" font-weight="bold" >G</text>
<g id="panelG">
<path d="M226.5 624.6 C231 623.5 235 627 240.2 628.2 C247 629.6 254 624 259 624.6 C264 625.2 266 631.6 271 632.8 C278 634 285 627.5 290 627.6 C294 627.8 295 632.4 299 632.9 C306 633.6 312 629.6 318 628.6 C324 627.6 329 624.6 333 624.8 C335.4 625 337 625.6 338.6 626.2" fill="none" stroke="#45459a" stroke-width="1.0"/>
<g transform="translate(249.4 617.1) rotate(43)">
<path d="M-8.9 0 L-8.9 5.6 A8.9 5.1 0 0 0 8.9 5.6 L8.9 0 Z" fill="#f1effa" stroke="#3d3a7e" stroke-width="0.8"/>
<path d="M-8.6 1.7 A8.9 5.1 0 0 0 8.6 1.7" fill="none" stroke="#7468be" stroke-width="1.5"/>
<path d="M-8.6 3.8 A8.9 5.1 0 0 0 8.6 3.8" fill="none" stroke="#7468be" stroke-width="1.5"/>
<ellipse cx="0" cy="0" rx="8.9" ry="5.1" fill="#e9e9e6" stroke="#3d3a7e" stroke-width="0.8"/>
<path d="M0 0 L8.2 0 A8.2 4.4 0 0 1 0 4.4 Z" fill="#a7ae9f"/>
<path d="M0 0 L-8.2 0 A8.2 4.4 0 0 1 0 -4.4 Z" fill="#cfcfcb"/>
<path d="M0 0 L0 4.4 A8.2 4.4 0 0 1 -8.2 0 Z" fill="#c4c6bf"/>
<path d="M-8.3 0 H8.3 M0 -4.5 V4.5" stroke="#fbfbfa" stroke-width="0.9"/>
<ellipse cx="0" cy="0" rx="7.7" ry="4.1" fill="none" stroke="#55527f" stroke-width="0.5"/>
</g>
<g transform="translate(279.2 620.5) rotate(43)">
<path d="M-8.9 0 L-8.9 5.6 A8.9 5.1 0 0 0 8.9 5.6 L8.9 0 Z" fill="#f1effa" stroke="#3d3a7e" stroke-width="0.8"/>
<path d="M-8.6 1.7 A8.9 5.1 0 0 0 8.6 1.7" fill="none" stroke="#7468be" stroke-width="1.5"/>
<path d="M-8.6 3.8 A8.9 5.1 0 0 0 8.6 3.8" fill="none" stroke="#7468be" stroke-width="1.5"/>
<ellipse cx="0" cy="0" rx="8.9" ry="5.1" fill="#e9e9e6" stroke="#3d3a7e" stroke-width="0.8"/>
<path d="M0 0 L8.2 0 A8.2 4.4 0 0 1 0 4.4 Z" fill="#a7ae9f"/>
<path d="M0 0 L-8.2 0 A8.2 4.4 0 0 1 0 -4.4 Z" fill="#cfcfcb"/>
<path d="M0 0 L0 4.4 A8.2 4.4 0 0 1 -8.2 0 Z" fill="#c4c6bf"/>
<path d="M-8.3 0 H8.3 M0 -4.5 V4.5" stroke="#fbfbfa" stroke-width="0.9"/>
<ellipse cx="0" cy="0" rx="7.7" ry="4.1" fill="none" stroke="#55527f" stroke-width="0.5"/>
</g>
<g transform="translate(309.0 620.5) rotate(43)">
<path d="M-8.9 0 L-8.9 5.6 A8.9 5.1 0 0 0 8.9 5.6 L8.9 0 Z" fill="#f1effa" stroke="#3d3a7e" stroke-width="0.8"/>
<path d="M-8.6 1.7 A8.9 5.1 0 0 0 8.6 1.7" fill="none" stroke="#7468be" stroke-width="1.5"/>
<path d="M-8.6 3.8 A8.9 5.1 0 0 0 8.6 3.8" fill="none" stroke="#7468be" stroke-width="1.5"/>
<ellipse cx="0" cy="0" rx="8.9" ry="5.1" fill="#e9e9e6" stroke="#3d3a7e" stroke-width="0.8"/>
<path d="M0 0 L8.2 0 A8.2 4.4 0 0 1 0 4.4 Z" fill="#a7ae9f"/>
<path d="M0 0 L-8.2 0 A8.2 4.4 0 0 1 0 -4.4 Z" fill="#cfcfcb"/>
<path d="M0 0 L0 4.4 A8.2 4.4 0 0 1 -8.2 0 Z" fill="#c4c6bf"/>
<path d="M-8.3 0 H8.3 M0 -4.5 V4.5" stroke="#fbfbfa" stroke-width="0.9"/>
<ellipse cx="0" cy="0" rx="7.7" ry="4.1" fill="none" stroke="#55527f" stroke-width="0.5"/>
</g>
<circle cx="240.4" cy="628.4" r="2.8" fill="#c39a5c" stroke="#8a6432" stroke-width="0.5"/>
<circle cx="239.8" cy="627.7" r="1.1" fill="#dcbc86"/>
<circle cx="271.0" cy="632.8" r="2.8" fill="#c39a5c" stroke="#8a6432" stroke-width="0.5"/>
<circle cx="270.4" cy="632.1" r="1.1" fill="#dcbc86"/>
<circle cx="298.8" cy="632.8" r="2.8" fill="#c39a5c" stroke="#8a6432" stroke-width="0.5"/>
<circle cx="298.2" cy="632.1" r="1.1" fill="#dcbc86"/>
<path d="M236.6 608.4 L241.0 611.8" stroke="#7a5a86" stroke-width="0.7"/>
<circle cx="236.6" cy="608.4" r="1.6" fill="#f3c3cf" stroke="#c0527a" stroke-width="0.7"/>
<path d="M266.2 608.4 L270.6 612.6" stroke="#7a5a86" stroke-width="0.7"/>
<circle cx="266.2" cy="608.4" r="1.6" fill="#f3c3cf" stroke="#c0527a" stroke-width="0.7"/>
<ellipse cx="277" cy="596.4" rx="5.8" ry="5.2" fill="#5db4e4"/>
<ellipse cx="276" cy="595" rx="3.4" ry="2.8" fill="#8fd0f0" opacity="0.8"/>
<ellipse cx="288" cy="609.8" rx="16.6" ry="9.5" fill="url(#gKat)" stroke="#e0788e" stroke-width="0.8"/>
<g fill="none" stroke="#e48c9b" stroke-width="1.25" stroke-linejoin="round" stroke-linecap="round">
<path d="M277.8 567.2 L273.5 558.1 M282.7 567.1 L289 561.9 M278 570 L264.2 570.2 M282.1 572.7 L283.3 577.7 L285.2 582.3 L287.1 585.8"/>
<path d="M277.5 567.3 L282.7 567.1 L283.5 572.5 L278.1 572.7 Z" fill="#fff"/>
<path d="M277.1 565.4 L274.8 564.7 L275.5 562.4 L277.8 563.1 Z" fill="#fff"/>
<path d="M275.4 561.9 L273.3 561.2 L274.0 559.1 L276.1 559.8 Z" fill="#fff"/>
<path d="M273.9 559.0 L272.3 558.4 L272.9 556.8 L274.5 557.4 Z" fill="#fff"/>
<path d="M286.1 564.3 L285.9 566.5 L283.7 566.3 L283.9 564.1 Z" fill="#fff"/>
<path d="M288.4 562.5 L288.2 564.7 L286.0 564.5 L286.2 562.3 Z" fill="#fff"/>
<path d="M290.2 561.0 L290.0 562.8 L288.2 562.6 L288.4 560.8 Z" fill="#fff"/>
<path d="M276.0 570.0 L274.2 571.8 L272.4 570.0 L274.2 568.2 Z" fill="#fff"/>
<path d="M272.1 570.1 L270.3 571.9 L268.5 570.1 L270.3 568.3 Z" fill="#fff"/>
<path d="M268.2 570.1 L266.5 571.8 L264.8 570.1 L266.5 568.4 Z" fill="#fff"/>
<path d="M265.0 570.2 L263.9 571.3 L262.8 570.2 L263.9 569.1 Z" fill="#fff"/>
<path d="M283.9 579.8 L281.1 578.2 L282.7 575.4 L285.5 577.0 Z" fill="#fff"/>
<path d="M286.0 584.1 L283.6 583.1 L284.6 580.7 L287.0 581.7 Z" fill="#fff"/>
</g>
<g fill="none" stroke="#3a4688" stroke-width="1.2" stroke-linejoin="round" stroke-linecap="round">
<path d="M287.1 585.8 L286.7 587 L290.4 590.4 L287.9 594.4 L286.2 590.2 Z" fill="#fff"/>
<path d="M287.9 594.4 L284.8 595.4 M287.9 594.4 L292.6 595.2"/>
<circle cx="283.5" cy="596.2" r="1.5" fill="#fff"/>
<circle cx="294.1" cy="595.6" r="1.6" fill="#fff"/>
</g>
<text x="296.80" y="579.12" font-size="8.60" text-anchor="start" fill="#c65a68" stroke="#c65a68" stroke-width="0.22" >GClnc1</text>
<text x="252.30" y="600.12" font-size="8.60" text-anchor="start" fill="#231f20" stroke="#231f20" stroke-width="0.22" >WDR5</text>
<text x="299.80" y="598.72" font-size="8.60" text-anchor="start" fill="#231f20" stroke="#231f20" stroke-width="0.22" >5′-end</text>
<text x="288.20" y="613.09" font-size="8.50" text-anchor="middle" fill="#231f20" stroke="#231f20" stroke-width="0.22" >KAT2A</text>
<path d="M335.7 627.5 L336.7 628.8 L337.8 629.9 L339.0 631.0 L340.2 631.9 L341.5 632.7 L342.8 633.3 L344.2 633.8 L345.6 634.1 L347.1 634.3 L348.5 634.3 L350.0 634.2 L351.4 633.9 L352.8 633.5 L354.3 633.0 L355.7 632.4 L357.1 631.6 L358.5 630.8 L359.9 629.8 L361.4 628.7 L362.8 627.5 L364.3 626.3 L365.8 624.9 L367.3 623.4 L368.8 621.8 L368.4 621.4 L366.6 622.7 L364.9 623.8 L363.2 624.8 L361.6 625.8 L360.0 626.6 L358.5 627.2 L357.0 627.8 L355.7 628.3 L354.3 628.6 L353.1 628.8 L351.9 629.0 L350.8 629.0 L349.8 629.0 L348.8 628.8 L347.9 628.6 L347.1 628.3 L346.3 628.0 L345.6 627.5 L344.9 627.1 L344.2 626.5 L343.5 625.8 L342.9 625.1 L342.2 624.3 L341.5 623.3 Z" fill="#6459b2" stroke="#3d3390" stroke-width="0.9" stroke-linejoin="round"/>
<circle cx="340.4" cy="624.9" r="1.67" fill="#e3dff4" stroke="#3d3390" stroke-width="0.5"/>
<circle cx="337.6" cy="627.0" r="1.67" fill="#e3dff4" stroke="#3d3390" stroke-width="0.5"/>
<circle cx="342.0" cy="626.8" r="1.63" fill="#e3dff4" stroke="#3d3390" stroke-width="0.5"/>
<circle cx="339.6" cy="629.3" r="1.63" fill="#e3dff4" stroke="#3d3390" stroke-width="0.5"/>
<circle cx="343.7" cy="628.2" r="1.56" fill="#e3dff4" stroke="#3d3390" stroke-width="0.5"/>
<circle cx="341.9" cy="631.0" r="1.56" fill="#e3dff4" stroke="#3d3390" stroke-width="0.5"/>
<circle cx="345.5" cy="629.3" r="1.47" fill="#e3dff4" stroke="#3d3390" stroke-width="0.5"/>
<circle cx="344.3" cy="632.2" r="1.47" fill="#e3dff4" stroke="#3d3390" stroke-width="0.5"/>
<circle cx="347.5" cy="630.0" r="1.36" fill="#e3dff4" stroke="#3d3390" stroke-width="0.5"/>
<circle cx="347.0" cy="632.8" r="1.36" fill="#e3dff4" stroke="#3d3390" stroke-width="0.5"/>
<circle cx="349.6" cy="630.2" r="1.24" fill="#e3dff4" stroke="#3d3390" stroke-width="0.5"/>
<circle cx="349.7" cy="632.9" r="1.24" fill="#e3dff4" stroke="#3d3390" stroke-width="0.5"/>
<circle cx="352.0" cy="630.1" r="1.10" fill="#e3dff4" stroke="#3d3390" stroke-width="0.5"/>
<circle cx="352.4" cy="632.4" r="1.10" fill="#e3dff4" stroke="#3d3390" stroke-width="0.5"/>
<circle cx="354.6" cy="629.6" r="0.94" fill="#e3dff4" stroke="#3d3390" stroke-width="0.5"/>
<circle cx="355.2" cy="631.5" r="0.94" fill="#e3dff4" stroke="#3d3390" stroke-width="0.5"/>
<circle cx="357.4" cy="628.5" r="0.78" fill="#e3dff4" stroke="#3d3390" stroke-width="0.5"/>
<circle cx="358.1" cy="630.0" r="0.78" fill="#e3dff4" stroke="#3d3390" stroke-width="0.5"/>
<circle cx="360.4" cy="627.0" r="0.60" fill="#e3dff4" stroke="#3d3390" stroke-width="0.5"/>
<circle cx="361.1" cy="628.1" r="0.60" fill="#e3dff4" stroke="#3d3390" stroke-width="0.5"/>
<circle cx="363.7" cy="625.1" r="0.45" fill="#e3dff4" stroke="#3d3390" stroke-width="0.5"/>
<circle cx="364.2" cy="625.8" r="0.45" fill="#e3dff4" stroke="#3d3390" stroke-width="0.5"/>
<path d="M336.5 640.4 H359.8" stroke="#3aaad6" stroke-width="1.5" fill="none"/>
<path d="M362.8 640.4 L357.2 637.9 L358.6 640.4 L357.2 642.9 Z" fill="#3aaad6"/>
<path d="M428.8 641.6 H452.4" stroke="#3aaad6" stroke-width="1.5" fill="none"/>
<path d="M455.4 641.6 L449.8 639.1 L451.2 641.6 L449.8 644.1 Z" fill="#3aaad6"/>
<text x="345.20" y="650.09" font-size="8.50" text-anchor="middle" fill="#231f20" stroke="#231f20" stroke-width="0.22" >Transactivation</text>
<text x="344.80" y="660.74" font-size="8.65" text-anchor="middle" fill="#231f20" stroke="#231f20" stroke-width="0.22" >e.g., <tspan font-style="italic">SOD2</tspan> gene</text>
<text x="405.60" y="602.11" font-size="8.55" text-anchor="middle" fill="#231f20" stroke="#231f20" stroke-width="0.22" >Proliferation</text>
<ellipse cx="401.5" cy="618.5" rx="11" ry="6" fill="#f5bd68"/>
<path d="M390.5 611.7 L402.9 605.2 L413.3 610.1 L404.9 617.2 L396.0 615.7 Z" fill="#f4ba62" stroke="#f9deaa" stroke-width="0.9" stroke-linejoin="round"/>
<path d="M393.6 611.8 L402.5 607.1 L410.0 610.6 L404.0 615.8 L397.5 614.7 Z" fill="#f8cd84" stroke="none"/>
<ellipse cx="401.8" cy="610.4" rx="1.9" ry="2.9" fill="#aa8c98" transform="rotate(18 401.8 610.4)"/>
<path d="M376.6 615.5 L390.5 610.9 L398.4 616.3 L388.2 621.9 L380.5 620.3 Z" fill="#f4ba62" stroke="#f9deaa" stroke-width="0.9" stroke-linejoin="round"/>
<path d="M379.5 615.9 L389.5 612.6 L395.2 616.5 L387.8 620.5 L382.3 619.4 Z" fill="#f8cd84" stroke="none"/>
<ellipse cx="388.2" cy="615.7" rx="1.9" ry="2.9" fill="#aa8c98" transform="rotate(18 388.2 615.7)"/>
<path d="M404.6 617.2 L413.9 611.7 L426.9 618.8 L416.1 624.4 L406.8 621.9 Z" fill="#f4ba62" stroke="#f9deaa" stroke-width="0.9" stroke-linejoin="round"/>
<path d="M407.2 617.7 L413.8 613.7 L423.2 618.8 L415.4 622.8 L408.7 621.0 Z" fill="#f8cd84" stroke="none"/>
<ellipse cx="414.5" cy="618.0" rx="1.9" ry="2.9" fill="#aa8c98" transform="rotate(18 414.5 618.0)"/>
<path d="M390.5 623.1 L400.0 617.6 L409.3 622.5 L402.2 629.0 L395.2 628.1 Z" fill="#f4ba62" stroke="#f9deaa" stroke-width="0.9" stroke-linejoin="round"/>
<path d="M393.0 623.4 L399.8 619.4 L406.5 622.9 L401.4 627.6 L396.4 627.0 Z" fill="#f8cd84" stroke="none"/>
<ellipse cx="401.5" cy="622.5" rx="1.9" ry="2.9" fill="#aa8c98" transform="rotate(18 401.5 622.5)"/>
<path d="M377.4 626.5 L388.2 621.9 L400.0 628.7 L389.1 634.3 L382.0 631.2 Z" fill="#f4ba62" stroke="#f9deaa" stroke-width="0.9" stroke-linejoin="round"/>
<path d="M380.2 627.1 L388.0 623.7 L396.4 628.6 L388.6 632.7 L383.5 630.4 Z" fill="#f8cd84" stroke="none"/>
<ellipse cx="388.2" cy="627.5" rx="1.9" ry="2.9" fill="#aa8c98" transform="rotate(18 388.2 627.5)"/>
<text x="403.80" y="650.36" font-size="8.70" text-anchor="middle" fill="#231f20" stroke="#231f20" stroke-width="0.22" >Metastasis</text>
<path d="M366.4 675 H432.1" stroke="#e8632c" stroke-width="1.7"/>
<path d="M404.9 661.5 Q400.4 663.3 398.9 667.1 Q394.4 665.5 389.7 666.9 Q388.5 663.1 384.2 661.1 Q387.2 657.9 386.5 654.0 Q391.4 653.9 394.9 651.0 Q398.1 654.0 403.0 654.4 Q402.1 658.2 404.9 661.5 Z" fill="url(#gCell)" stroke="#1f5c9e" stroke-width="1.1" stroke-linejoin="round"/>
<ellipse cx="394.6" cy="659.4" rx="3.0" ry="1.9" fill="#f8e6bc" transform="rotate(-12 394.6 659.4)"/>
<path d="M394.2 675.1 Q389.3 675.8 386.5 679.0 Q382.8 676.4 377.8 676.7 Q378.0 672.7 374.7 669.8 Q378.7 667.5 379.5 663.6 Q384.3 664.7 388.6 662.7 Q390.5 666.4 395.2 667.8 Q392.8 671.3 394.2 675.1 Z" fill="url(#gCell)" stroke="#1f5c9e" stroke-width="1.1" stroke-linejoin="round"/>
<ellipse cx="385.2" cy="670.7" rx="3.0" ry="1.9" fill="#f8e6bc" transform="rotate(-12 385.2 670.7)"/>
<path d="M415.2 670.7 Q411.2 673.0 410.4 676.9 Q405.6 675.8 401.3 677.8 Q399.4 674.1 394.7 672.7 Q397.1 669.2 395.6 665.4 Q400.5 664.7 403.4 661.5 Q407.1 664.1 412.1 663.8 Q411.9 667.8 415.2 670.7 Z" fill="url(#gCell)" stroke="#1f5c9e" stroke-width="1.1" stroke-linejoin="round"/>
<ellipse cx="404.7" cy="669.8" rx="3.0" ry="1.9" fill="#f8e6bc" transform="rotate(-12 404.7 669.8)"/>
<path d="M395.5 675 H402.5" stroke="#e8632c" stroke-width="1.7"/>
<path d="M392.4 683.6 Q387.9 685.2 386.2 688.9 Q381.7 687.1 377.0 688.3 Q376.0 684.5 371.8 682.3 Q375.0 679.3 374.6 675.4 Q379.5 675.4 383.1 672.7 Q386.1 675.8 391.1 676.3 Q389.9 680.2 392.4 683.6 Z" fill="url(#gCell)" stroke="#1f5c9e" stroke-width="1.1" stroke-linejoin="round"/>
<ellipse cx="382.3" cy="681.1" rx="3.0" ry="1.9" fill="#f8e6bc" transform="rotate(-12 382.3 681.1)"/>
<path d="M407.3 689.8 Q402.4 690.1 399.2 693.1 Q395.8 690.2 390.8 690.1 Q391.5 686.2 388.5 683.0 Q392.8 681.0 394.1 677.2 Q398.7 678.6 403.3 677.0 Q404.8 680.8 409.2 682.6 Q406.4 685.9 407.3 689.8 Z" fill="url(#gCell)" stroke="#1f5c9e" stroke-width="1.1" stroke-linejoin="round"/>
<ellipse cx="398.9" cy="684.7" rx="3.0" ry="1.9" fill="#f8e6bc" transform="rotate(-12 398.9 684.7)"/>
<path d="M423.6 684.4 Q418.8 685.5 416.4 689.0 Q412.4 686.7 407.4 687.3 Q407.2 683.4 403.5 680.8 Q407.2 678.2 407.5 674.2 Q412.4 674.9 416.4 672.6 Q418.8 676.1 423.6 677.2 Q421.7 680.8 423.6 684.4 Z" fill="url(#gCell)" stroke="#1f5c9e" stroke-width="1.1" stroke-linejoin="round"/>
<ellipse cx="414.1" cy="680.8" rx="3.0" ry="1.9" fill="#f8e6bc" transform="rotate(-12 414.1 680.8)"/>
<path d="M366.4 675 H373.6 M423.6 675 H432.1" stroke="#e8632c" stroke-width="1.7"/>
<path d="M465 615 C467.4 614 470.6 613.4 473.1 613.8 C473.8 615 474 616.4 474.4 617.5 C475.4 616.8 476.4 616.1 477.5 615.6 C479.4 614.7 481.6 614.2 483.8 614.4 C486.2 614.6 488.4 615.5 490 616.9 C492.4 619 493.6 622 494.4 625 C495.4 628.6 495.8 632.4 495.6 636.3 C495.5 640.6 494.9 644.8 493.8 648.8 C492.8 652.8 491.8 656.6 490 660 C488.2 663.4 485.6 666.6 482.5 668.8 C479.6 671 476.2 672.6 472.5 673.1 C469.2 673.5 465.6 672.8 462.5 671.3 C459.2 670 456.2 668.4 453.8 666.3 C451.8 664.6 450 662.8 448.8 660.6 L447.5 653.1 C450 652.9 452.6 652.6 455 651.9 C458.6 651.2 462.2 650 465 648.1 C467.6 646.4 469.4 644 470.6 641.3 C471.8 638.6 472.2 635.6 471.9 632.5 C471.6 629.4 470.6 626.6 469.4 623.8 C468.4 621.6 466.8 619.6 465.6 617.5 C465.2 616.7 465 615.8 465 615 Z" fill="url(#gSto)" stroke="#f4c9b9" stroke-width="0.5"/>
<g>
<circle cx="482.0" cy="653.0" r="4.2" fill="#4a4746"/>
<circle cx="480.9" cy="655.3" r="0.91" fill="#2f2d2c"/>
<circle cx="482.9" cy="651.2" r="0.86" fill="#6c6967"/>
<circle cx="482.4" cy="654.9" r="0.74" fill="#3b3938"/>
<circle cx="485.6" cy="655.3" r="1.03" fill="#2f2d2c"/>
<circle cx="487.0" cy="651.3" r="0.37" fill="#6c6967"/>
<circle cx="484.2" cy="650.2" r="0.55" fill="#2f2d2c"/>
<circle cx="477.5" cy="650.9" r="0.70" fill="#2f2d2c"/>
<circle cx="480.4" cy="652.5" r="0.49" fill="#3b3938"/>
<circle cx="477.2" cy="653.1" r="0.75" fill="#5d5a58"/>
<circle cx="478.2" cy="650.7" r="0.66" fill="#3b3938"/>
<circle cx="481.0" cy="649.9" r="0.85" fill="#6c6967"/>
<circle cx="478.1" cy="653.1" r="0.76" fill="#6c6967"/>
<circle cx="484.3" cy="652.7" r="0.74" fill="#4d4a49"/>
<circle cx="484.7" cy="656.8" r="0.36" fill="#2f2d2c"/>
<circle cx="482.5" cy="648.0" r="0.80" fill="#4d4a49"/>
<circle cx="479.9" cy="656.3" r="0.80" fill="#5d5a58"/>
<circle cx="483.8" cy="653.8" r="0.64" fill="#2f2d2c"/>
<circle cx="487.1" cy="655.1" r="0.86" fill="#5d5a58"/>
<circle cx="481.1" cy="657.0" r="0.92" fill="#2f2d2c"/>
<circle cx="485.7" cy="651.6" r="0.88" fill="#5d5a58"/>
<circle cx="482.1" cy="657.1" r="1.06" fill="#2f2d2c"/>
<circle cx="484.1" cy="656.6" r="0.64" fill="#3b3938"/>
<circle cx="478.6" cy="655.0" r="1.07" fill="#3b3938"/>
<circle cx="483.6" cy="655.3" r="0.61" fill="#3b3938"/>
<circle cx="481.5" cy="655.5" r="0.82" fill="#6c6967"/>
<circle cx="476.1" cy="650.4" r="0.61" fill="#6c6967"/>
<circle cx="478.8" cy="648.3" r="0.79" fill="#6c6967"/>
<circle cx="478.7" cy="655.6" r="0.52" fill="#5d5a58"/>
<circle cx="483.6" cy="653.7" r="0.60" fill="#3b3938"/>
<circle cx="485.9" cy="656.3" r="0.39" fill="#6c6967"/>
<circle cx="483.2" cy="654.7" r="0.70" fill="#2f2d2c"/>
<circle cx="484.7" cy="654.3" r="0.71" fill="#4d4a49"/>
<circle cx="486.9" cy="651.6" r="0.59" fill="#2f2d2c"/>
<circle cx="485.8" cy="647.7" r="0.59" fill="#2f2d2c"/>
<circle cx="485.5" cy="657.5" r="0.59" fill="#3b3938"/>
<circle cx="479.0" cy="652.7" r="1.12" fill="#4d4a49"/>
<circle cx="484.9" cy="656.9" r="0.35" fill="#6c6967"/>
<circle cx="484.7" cy="649.1" r="0.81" fill="#4d4a49"/>
<circle cx="482.7" cy="648.2" r="0.75" fill="#4d4a49"/>
<circle cx="478.6" cy="649.1" r="0.75" fill="#3b3938"/>
<circle cx="484.1" cy="647.4" r="0.46" fill="#6c6967"/>
<circle cx="476.4" cy="653.3" r="0.75" fill="#5d5a58"/>
<circle cx="481.7" cy="658.5" r="0.57" fill="#4d4a49"/>
<circle cx="485.8" cy="651.9" r="0.60" fill="#3b3938"/>
<circle cx="478.2" cy="653.7" r="0.79" fill="#6c6967"/>
<circle cx="484.5" cy="649.1" r="0.68" fill="#2f2d2c"/>
<circle cx="483.2" cy="651.0" r="0.72" fill="#3b3938"/>
<circle cx="479.2" cy="653.4" r="1.00" fill="#4d4a49"/>
<circle cx="487.5" cy="656.3" r="0.58" fill="#2f2d2c"/>
<circle cx="481.6" cy="650.3" r="0.54" fill="#3b3938"/>
<circle cx="478.2" cy="650.6" r="0.68" fill="#6c6967"/>
<circle cx="485.0" cy="647.2" r="0.52" fill="#6c6967"/>
<circle cx="481.1" cy="652.7" r="1.01" fill="#2f2d2c"/>
<circle cx="482.0" cy="656.6" r="0.62" fill="#6c6967"/>
<circle cx="479.8" cy="657.3" r="0.78" fill="#2f2d2c"/>
<circle cx="485.3" cy="650.9" r="0.77" fill="#6c6967"/>
<circle cx="483.9" cy="648.6" r="0.77" fill="#6c6967"/>
<circle cx="483.8" cy="654.9" r="0.81" fill="#5d5a58"/>
<circle cx="482.9" cy="647.9" r="0.74" fill="#3b3938"/>
<circle cx="484.1" cy="657.0" r="0.72" fill="#6c6967"/>
<circle cx="487.0" cy="655.1" r="0.59" fill="#2f2d2c"/>
<circle cx="483.2" cy="651.9" r="0.58" fill="#2f2d2c"/>
</g>
<text x="476.80" y="681.29" font-size="8.80" text-anchor="middle" fill="#231f20" stroke="#231f20" stroke-width="0.22" >Gastric cancer</text>
</g>
</svg>
</body>
</html>
